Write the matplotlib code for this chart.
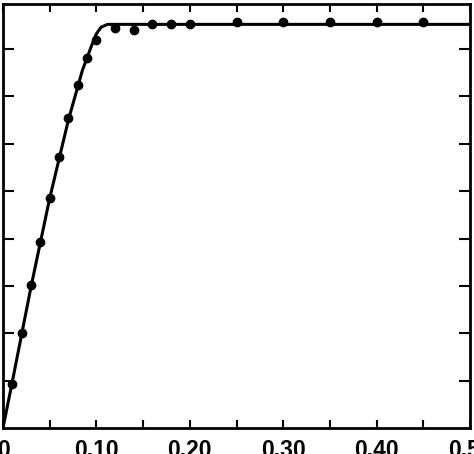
import numpy as np
import matplotlib
matplotlib.use('Agg')
import matplotlib.pyplot as plt

# measured points
x_pts = [0.01, 0.02, 0.03, 0.04, 0.05, 0.06, 0.07, 0.08, 0.09, 0.10,
         0.12, 0.14, 0.16, 0.18, 0.20, 0.25, 0.30, 0.35, 0.40, 0.45]
y_pts = [0.93, 2.01, 3.02, 3.93, 4.86, 5.71, 6.55, 7.23, 7.82, 8.18,
         8.44, 8.41, 8.52, 8.52, 8.52, 8.56, 8.56, 8.56, 8.58, 8.58]

# fitted curve (vertices)
x_fit = [0.0, 0.01, 0.03, 0.05, 0.07, 0.085, 0.095, 0.100, 0.105, 0.112, 0.50]
y_fit = [0.0, 0.98, 2.98, 4.85, 6.50, 7.55, 8.08, 8.32, 8.46, 8.52, 8.52]

x_ticks = [0.0, 0.10, 0.20, 0.30, 0.40, 0.50]
x_labels = ['0', '0.10', '0.20', '0.30', '0.40', '0.50']

plt.rcParams['font.family'] = ['Liberation Sans', 'DejaVu Sans']

fig = plt.figure(figsize=(4.74, 4.54), dpi=100)
ax = fig.add_axes([3 / 474, (454 - 428) / 454, 467 / 474, 424 / 454])

ax.plot(x_fit, y_fit, color='black', lw=2.2, solid_joinstyle='round')
ax.plot(x_pts, y_pts, 'o', color='black', ms=6)

ax.set_xlim(0, 0.5)
ax.set_ylim(0, 8.95)
ax.set_xticks(x_ticks)
ax.set_xticklabels(x_labels, fontsize=16.5, fontweight='bold')
ax.set_xticks(np.arange(0.05, 0.5, 0.1), minor=True)
ax.set_yticks(range(1, 9))
ax.set_yticklabels([])
ax.tick_params(which='both', direction='in', top=True, right=True,
               width=1.5, pad=8)
ax.tick_params(which='major', length=6)
ax.tick_params(which='minor', length=6)
ax.tick_params(axis='y', length=8)
for s in ax.spines.values():
    s.set_linewidth(2)

fig.savefig('out.png', dpi=100)
